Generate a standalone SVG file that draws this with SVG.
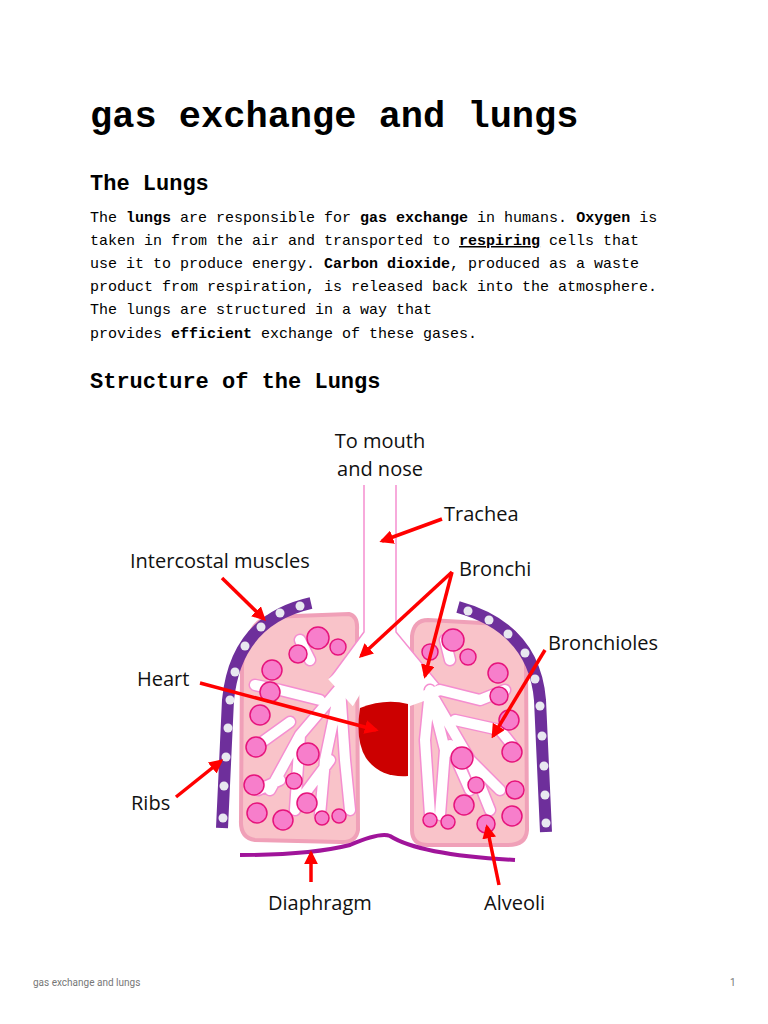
<svg xmlns="http://www.w3.org/2000/svg" width="768" height="1024" viewBox="0 0 768 1024">
<defs>
<marker id="ah" viewBox="0 0 10 10" refX="8" refY="5" markerWidth="4" markerHeight="4" orient="auto"><path d="M0,0L10,5L0,10z" fill="#f00"/></marker>
<style>
.m{font-family:"Liberation Mono",monospace;fill:#000}
.b{font-weight:bold}
.lb{font-family:"Open Sans","Liberation Sans",sans-serif;font-size:20px;fill:#111}
.ar{stroke:#f00;stroke-width:3.5;fill:none;marker-end:url(#ah)}
.al{fill:#f77ecb;stroke:#e6147c;stroke-width:1.5}
.br1{stroke:#f58ed0;stroke-width:13;fill:none;stroke-linecap:round;stroke-linejoin:round}
.br2{stroke:#fff;stroke-width:10;fill:none;stroke-linecap:round;stroke-linejoin:round}
.rib{stroke:#6e2f9b;stroke-width:12;fill:none}
.ribw{stroke:#fff;stroke-width:20;fill:none}
.dot{fill:#e8e8f0}
</style>
</defs>
<rect width="768" height="1024" fill="#fff"/>
<text class="m b" x="90" y="127" font-size="37">gas exchange and lungs</text>
<text class="m b" x="90" y="190" font-size="22">The Lungs</text>
<g class="m" font-size="15">
<text x="90" y="222">The <tspan class="b">lungs</tspan> are responsible for <tspan class="b">gas exchange</tspan> in humans. <tspan class="b">Oxygen</tspan> is</text>
<text x="90" y="245">taken in from the air and transported to <tspan class="b" text-decoration="underline">respiring</tspan> cells that</text>
<text x="90" y="268">use it to produce energy. <tspan class="b">Carbon dioxide</tspan>, produced as a waste</text>
<text x="90" y="291">product from respiration, is released back into the atmosphere.</text>
<text x="90" y="314">The lungs are structured in a way that</text>
<text x="90" y="338">provides <tspan class="b">efficient</tspan> exchange of these gases.</text>
</g>
<text class="m b" x="90" y="388" font-size="22">Structure of the Lungs</text>

<g id="lungs">
<path d="M268,617 L349,614 Q358,616 357,630 L358,830 Q356,843 340,842 L255,840 Q240,838 241,820 L242,665 Q246,624 268,617z" fill="#f9c3c9" stroke="#f0a0b8" stroke-width="4"/>
<path d="M428,620 L500,624 Q523,632 526,660 L527,830 Q526,845 508,845 L428,845 Q412,845 412,830 L412,636 Q414,620 428,620z" fill="#f9c3c9" stroke="#f0a0b8" stroke-width="4"/>
<g id="trachea">
<path d="M364,485 L364,632 L330,678 L352,700 L380,650 L412,700 L444,690 L396,632 L396,485" fill="#fff" stroke="#f58ed0" stroke-width="1.5"/>
</g>
<g id="branches">
<path class="br1" d="M340,688 L300,735 L270,790 M300,735 L295,810 M340,688 L325,760 L320,815 M320,700 L280,690 L255,685 M290,722 L258,745 M310,660 L300,640 M340,688 L345,760 L350,810 M280,780 L258,790 M330,760 L300,800"/>
<path class="br2" d="M340,688 L300,735 L270,790 M300,735 L295,810 M340,688 L325,760 L320,815 M320,700 L280,690 L255,685 M290,722 L258,745 M310,660 L300,640 M340,688 L345,760 L350,810 M280,780 L258,790 M330,760 L300,800"/>
<path class="br1" d="M430,690 L445,750 L440,815 M435,700 L470,760 L490,810 M440,690 L480,700 L505,690 M455,720 L500,730 L512,745 M430,690 L425,740 L430,815 M450,660 L445,640 M470,760 L500,790 M450,745 L470,790"/>
<path class="br2" d="M430,690 L445,750 L440,815 M435,700 L470,760 L490,810 M440,690 L480,700 L505,690 M455,720 L500,730 L512,745 M430,690 L425,740 L430,815 M450,660 L445,640 M470,760 L500,790 M450,745 L470,790"/>
<path d="M332,676 L352,698 L370,668 L380,652 L390,668 L412,700 L440,690" fill="none" stroke="#fff" stroke-width="10"/>
</g>
<g id="alveoli">
<circle class="al" cx="318" cy="638" r="11"/><circle class="al" cx="298" cy="654" r="9"/><circle class="al" cx="338" cy="647" r="8"/><circle class="al" cx="272" cy="670" r="10"/><circle class="al" cx="270" cy="692" r="10"/><circle class="al" cx="260" cy="715" r="10"/><circle class="al" cx="256" cy="747" r="10"/><circle class="al" cx="308" cy="754" r="11"/><circle class="al" cx="254" cy="785" r="10"/><circle class="al" cx="294" cy="781" r="8"/><circle class="al" cx="307" cy="803" r="10"/><circle class="al" cx="257" cy="813" r="10"/><circle class="al" cx="283" cy="820" r="10"/><circle class="al" cx="322" cy="818" r="7"/><circle class="al" cx="339" cy="816" r="7"/>
<circle class="al" cx="453" cy="640" r="11"/><circle class="al" cx="430" cy="652" r="8"/><circle class="al" cx="468" cy="657" r="8"/><circle class="al" cx="498" cy="673" r="10"/><circle class="al" cx="499" cy="696" r="9"/><circle class="al" cx="509" cy="720" r="10"/><circle class="al" cx="512" cy="752" r="10"/><circle class="al" cx="462" cy="758" r="11"/><circle class="al" cx="476" cy="785" r="8"/><circle class="al" cx="515" cy="790" r="9"/><circle class="al" cx="464" cy="805" r="10"/><circle class="al" cx="512" cy="816" r="10"/><circle class="al" cx="430" cy="820" r="7"/><circle class="al" cx="448" cy="822" r="7"/><circle class="al" cx="486" cy="824" r="9"/>
</g>
</g>

<g id="ribs">
<path class="rib" d="M311,603 Q236,620 228,700 L222,828"/>
<path class="rib" d="M458,607 Q534,628 540,700 L546,832"/>
<g class="dot">
<circle cx="300" cy="606" r="4.5"/><circle cx="280" cy="613" r="4.5"/><circle cx="261" cy="627" r="4.5"/><circle cx="245" cy="646" r="4.5"/><circle cx="235" cy="672" r="4.5"/><circle cx="230" cy="700" r="4.5"/><circle cx="228" cy="728" r="4.5"/><circle cx="226" cy="757" r="4.5"/><circle cx="224" cy="786" r="4.5"/><circle cx="223" cy="818" r="4.5"/>
<circle cx="468" cy="611" r="4.5"/><circle cx="489" cy="620" r="4.5"/><circle cx="508" cy="634" r="4.5"/><circle cx="525" cy="653" r="4.5"/><circle cx="535" cy="679" r="4.5"/><circle cx="540" cy="706" r="4.5"/><circle cx="542" cy="736" r="4.5"/><circle cx="544" cy="766" r="4.5"/><circle cx="545" cy="795" r="4.5"/><circle cx="546" cy="823" r="4.5"/>
</g>
</g>

<g id="heart"><path d="M360,708 Q385,698 408,704 L408,776 Q380,778 366,758 Q355,740 360,708z" fill="#cc0000"/></g>
<g id="diaphragm"><path d="M240,855 Q310,855 350,845 Q380,832 390,836 Q420,855 515,860" fill="none" stroke="#a0149a" stroke-width="4"/></g>

<g id="labels" class="lb">
<text x="380" y="448" text-anchor="middle">To mouth</text>
<text x="380" y="476" text-anchor="middle">and nose</text>
<text x="444" y="521">Trachea</text>
<text x="130" y="568">Intercostal muscles</text>
<text x="459" y="576">Bronchi</text>
<text x="548" y="650">Bronchioles</text>
<text x="137" y="686">Heart</text>
<text x="131" y="810">Ribs</text>
<text x="268" y="910">Diaphragm</text>
<text x="484" y="910">Alveoli</text>
</g>

<g id="connectors">
<path class="ar" d="M442,519 L382,541"/>
<path class="ar" d="M222,578 L264,619"/>
<path class="ar" d="M452,572 L361,656"/>
<path class="ar" d="M452,572 L425,676"/>
<path class="ar" d="M545,650 L493,736"/>
<path class="ar" d="M200,683 L376,730"/>
<path class="ar" d="M176,797 L221,761"/>
<path class="ar" d="M311,882 L311,853"/>
<path class="ar" d="M499,885 L487,827"/>
</g>
<g font-family="Roboto,'Liberation Sans',sans-serif" font-size="10" fill="#777">
<text x="33" y="986">gas exchange and lungs</text>
<text x="730" y="986">1</text>
</g>
</svg>
